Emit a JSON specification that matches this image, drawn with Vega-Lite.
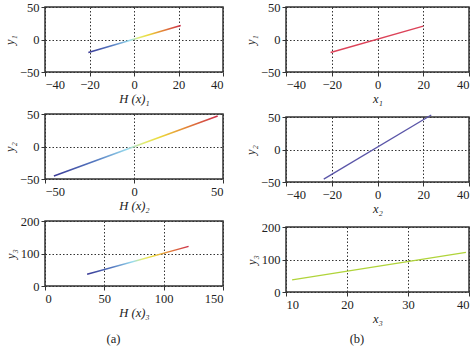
{
  "$schema": "https://vega.github.io/schema/vega-lite/v6.json",
  "padding": {"left": 2, "top": 0, "right": 2, "bottom": 0},
  "config": {
    "font": "Liberation Serif",
    "view": {"stroke": "#333", "strokeWidth": 1.5},
    "axis": {"domain": false, "tickColor": "#333", "tickSize": 4, "tickWidth": 1, "labelFont": "Liberation Serif", "labelFontSize": 12.5, "labelColor": "#222", "labelPadding": 2, "titleFont": "Liberation Serif", "titleFontSize": 12.5, "titleFontWeight": "normal", "titleFontStyle": "italic", "titleColor": "#222", "gridColor": "#333", "gridDash": [1.5, 2], "gridWidth": 1, "gridOpacity": 1},
    "axisX": {"titlePadding": 2},
    "axisY": {"titlePadding": 3},
    "title": {"font": "Liberation Serif", "fontSize": 12.5, "fontWeight": "normal", "color": "#222", "anchor": "middle", "offset": 12}
  },
  "datasets": {
    "a1": [{"x": -20.5, "y": -20}, {"x": 21, "y": 21.5}],
    "a2": [{"x": -45, "y": -45.5}, {"x": 47, "y": 47}],
    "a3": [{"x": 35.5, "y": 36}, {"x": 121, "y": 122}],
    "b1": [{"x": -20.5, "y": -20}, {"x": 20, "y": 20.5}],
    "b2": [{"x": -23.5, "y": -45.5}, {"x": 23.5, "y": 53}],
    "b3": [{"x": 11, "y": 37}, {"x": 39.5, "y": 122}]
  },
  "spacing": 18,
  "hconcat": [
    {
      "bounds": "flush",
      "spacing": 42,
      "title": {"text": "(a)", "orient": "bottom", "anchor": "middle", "offset": 13},
      "vconcat": [
        {"width": 178, "height": 65, "data": {"name": "a1"},
         "mark": {"type": "line", "strokeWidth": 1.5, "stroke": {"gradient": "linear", "x1": 0, "y1": 0, "x2": 1, "y2": 0, "stops": [{"offset": 0, "color": "#3a3a96"}, {"offset": 0.25, "color": "#5478c0"}, {"offset": 0.45, "color": "#98dcee"}, {"offset": 0.55, "color": "#e2ec70"}, {"offset": 0.65, "color": "#ecd83a"}, {"offset": 0.8, "color": "#e48838"}, {"offset": 1, "color": "#cc2c48"}]}},
         "encoding": {
           "x": {"field": "x", "type": "quantitative", "scale": {"domain": [-40, 40]}, "axis": {"values": [-40, -20, 0, 20, 40], "title": "H (x)₁"}},
           "y": {"field": "y", "type": "quantitative", "scale": {"domain": [-50, 50]}, "axis": {"values": [-50, 0, 50], "title": "y₁"}}
         }},
        {"width": 178, "height": 65, "data": {"name": "a2"},
         "mark": {"type": "line", "strokeWidth": 1.5, "stroke": {"gradient": "linear", "x1": 0, "y1": 0, "x2": 1, "y2": 0, "stops": [{"offset": 0, "color": "#3a3a96"}, {"offset": 0.25, "color": "#5478c0"}, {"offset": 0.45, "color": "#98dcee"}, {"offset": 0.55, "color": "#e2ec70"}, {"offset": 0.65, "color": "#ecd83a"}, {"offset": 0.8, "color": "#e48838"}, {"offset": 1, "color": "#cc2c48"}]}},
         "encoding": {
           "x": {"field": "x", "type": "quantitative", "scale": {"domain": [-50, 50]}, "axis": {"values": [-50, 0, 50], "title": "H (x)₂"}},
           "y": {"field": "y", "type": "quantitative", "scale": {"domain": [-50, 50]}, "axis": {"values": [-50, 0, 50], "title": "y₂"}}
         }},
        {"width": 178, "height": 65, "data": {"name": "a3"},
         "mark": {"type": "line", "strokeWidth": 1.5, "stroke": {"gradient": "linear", "x1": 0, "y1": 0, "x2": 1, "y2": 0, "stops": [{"offset": 0, "color": "#3a3a96"}, {"offset": 0.25, "color": "#5478c0"}, {"offset": 0.45, "color": "#98dcee"}, {"offset": 0.55, "color": "#e2ec70"}, {"offset": 0.65, "color": "#ecd83a"}, {"offset": 0.8, "color": "#e48838"}, {"offset": 1, "color": "#cc2c48"}]}},
         "encoding": {
           "x": {"field": "x", "type": "quantitative", "scale": {"domain": [0, 150]}, "axis": {"values": [0, 50, 100, 150], "title": "H (x)₃"}},
           "y": {"field": "y", "type": "quantitative", "scale": {"domain": [0, 200]}, "axis": {"values": [0, 100, 200], "title": "y₃"}}
         }}
      ]
    },
    {
      "bounds": "flush",
      "spacing": 45,
      "title": {"text": "(b)", "orient": "bottom", "anchor": "middle", "offset": 7},
      "vconcat": [
        {"width": 183, "height": 65, "data": {"name": "b1"},
         "mark": {"type": "line", "strokeWidth": 1.3, "color": "#dc4258"},
         "encoding": {
           "x": {"field": "x", "type": "quantitative", "scale": {"domain": [-40, 40]}, "axis": {"values": [-40, -20, 0, 20, 40], "title": "x₁"}},
           "y": {"field": "y", "type": "quantitative", "scale": {"domain": [-50, 50]}, "axis": {"values": [-50, 0, 50], "title": "y₁"}}
         }},
        {"width": 183, "height": 65, "data": {"name": "b2"},
         "mark": {"type": "line", "strokeWidth": 1.3, "color": "#5a55a8"},
         "encoding": {
           "x": {"field": "x", "type": "quantitative", "scale": {"domain": [-40, 40]}, "axis": {"values": [-40, -20, 0, 20, 40], "title": "x₂"}},
           "y": {"field": "y", "type": "quantitative", "scale": {"domain": [-50, 50]}, "axis": {"values": [-50, 0, 50], "title": "y₂"}}
         }},
        {"width": 183, "height": 65, "data": {"name": "b3"},
         "mark": {"type": "line", "strokeWidth": 1.3, "color": "#b0d43a"},
         "encoding": {
           "x": {"field": "x", "type": "quantitative", "scale": {"domain": [10, 40]}, "axis": {"values": [10, 20, 30, 40], "title": "x₃"}},
           "y": {"field": "y", "type": "quantitative", "scale": {"domain": [0, 200]}, "axis": {"values": [0, 100, 200], "title": "y₃"}}
         }}
      ]
    }
  ]
}
